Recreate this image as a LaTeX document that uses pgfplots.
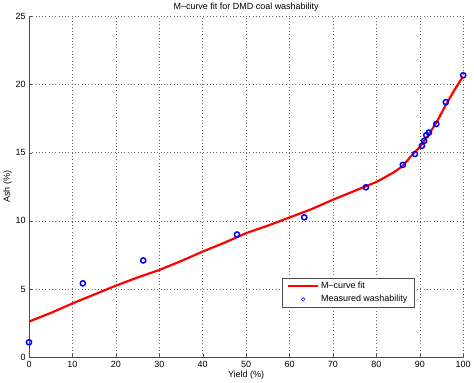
\documentclass[border=0pt]{standalone}
\usepackage{pgfplots}
\pgfplotsset{compat=1.18}
\usepackage{fontspec}
\setmainfont{Liberation Sans}
\begin{document}
\begin{tikzpicture}
\begin{axis}[
  scale only axis, width=434bp, height=341bp,
  xmin=0, xmax=100, ymin=0, ymax=25,
  xtick={0,10,...,100}, ytick={0,5,...,25},
  axis x line*=bottom, axis y line*=left,
  axis line style={-, draw=black!70, line width=0.6pt},
  tick align=inside, major tick length=3bp,
  tick style={black!70},
  grid=major, grid style={dash pattern=on 0.7pt off 2.6pt, black!60, line width=0.5pt},
  /pgf/number format/assume math mode=true,
  ticklabel style={font=\fontsize{9}{10}\selectfont},
  label style={font=\fontsize{9}{10}\selectfont},
  title style={font=\fontsize{9}{10}\selectfont, yshift=-5bp},
  title={M--curve fit for DMD coal washability},
  xlabel={Yield (\%)}, ylabel={Ash (\%)},
  xlabel style={yshift=3bp}, ylabel style={yshift=-3bp},
  legend style={at={(0.583,0.232)}, anchor=north west, font=\fontsize{9}{10}\selectfont, draw=black!70, inner xsep=5pt, inner ysep=2pt, row sep=1pt},
  legend cell align=left,
]
\addplot[red, line width=2.2pt, legend image code/.code={\draw[##1, line width=1.8pt] (0bp,0bp) -- (30bp,0bp);}] coordinates {
(0,2.62)(5,3.25)(10,3.95)(15,4.6)(20,5.25)(25,5.85)(30,6.4)(35,7.05)(40,7.75)(45,8.4)(50,9.1)(55,9.65)(60,10.25)(65,10.85)(70,11.55)(75,12.2)(80,12.85)(84,13.55)(86,14.0)(88,14.75)(90,15.4)(92,16.3)(94,17.3)(96,18.5)(98,19.6)(100,20.6)};
\addlegendentry{M--curve fit}
\addplot[only marks, mark=o, blue, mark size=2.6pt, line width=1.5pt, mark options={solid}, legend image code/.code={\draw[blue, line width=0.5pt] (15bp,0) circle (1.8bp);}] coordinates {
(0,1.1)(12.4,5.42)(26.3,7.1)(47.9,9.0)(63.4,10.26)(77.6,12.46)(86.1,14.1)(88.9,14.9)(90.5,15.5)(91.0,15.86)(91.5,16.28)(92.1,16.47)(93.8,17.1)(96.0,18.7)(100,20.67)};
\addlegendentry{Measured washability}
\end{axis}
\end{tikzpicture}
\end{document}
